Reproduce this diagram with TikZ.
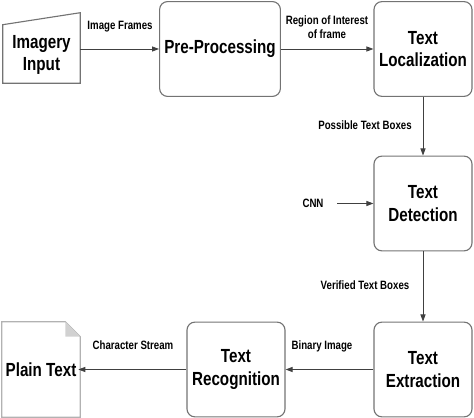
\documentclass[tikz,border=0pt]{standalone}
\usepackage{fontspec}
\setmainfont{Liberation Sans}[FakeStretch=0.8]
\usetikzlibrary{arrows.meta,calc,positioning}
\newcommand\PxScale{0.025cm}
\tikzset{
  box/.style={
    shape = rectangle,
    draw = black!55,
    line width = 0.8pt,
    rounded corners = 0.2cm,
    minimum width = 2.45cm,
    minimum height = 2.37cm,
    align = center,
    font = \fontsize{13.5}{16}\selectfont\bfseries
  },
  plain/.style={
    shape = rectangle,
    inner sep = 0pt,
    align = center,
    font = \fontsize{13.5}{16}\selectfont\bfseries
  },
  lbl/.style={
    align = center,
    inner sep = 1pt,
    font = \fontsize{8.6}{10}\selectfont\bfseries
  },
  arr/.style={
    draw = black!75,
    line width = 0.6pt,
    -{Triangle[length=5pt,width=3.6pt]}
  },
}
\begin{document}
\begin{tikzpicture}[x=\PxScale,y=-\PxScale]
    \useasboundingbox (0,0) rectangle (474,418);

    \node[plain, minimum width=1.925cm, minimum height=1.4cm] (im) at (41.5,55) {Imagery\\Input};
    \draw[black!55, line width=0.8pt] (im.south west) -- (im.south east)
        -- ([yshift=0.35cm]im.north east) -- ([yshift=0.05cm]im.north west) -- cycle;

    \node[box, minimum width=2.95cm] (pre) at (220,49) {Pre-Processing};
    \node[box] (loc) at (423,49) {Text\\Localization};
    \node[box] (det) at (423,203.5) {Text\\Detection};
    \node[box] (ext) at (423,369.5) {Text\\Extraction};
    \node[box] (rec) at (236,369.5) {Text\\Recognition};

    \node[plain, minimum width=1.95cm, minimum height=2.375cm] (pt) at (41,369.5) {Plain Text};
    \draw[black!30, line width=0.8pt] (pt.north west) -- ([xshift=-0.375cm]pt.north east)
        -- ([yshift=-0.375cm]pt.north east) -- (pt.south east) -- (pt.south west) -- cycle;
    \fill[black!18] ([xshift=-0.375cm]pt.north east) -- ([yshift=-0.375cm]pt.north east)
        -- ([xshift=-0.375cm,yshift=-0.375cm]pt.north east) -- cycle;

    \node[lbl] (cnn) at (313,203.5) {CNN};

    \draw[arr] (pre.west -| im.east) -- (pre.west);
    \draw[arr] (pre.east) -- (loc.west);
    \draw[arr] (loc.south) -- (det.north);
    \draw[arr, shorten <=0.3cm] (cnn.east) -- (det.west);
    \draw[arr] (det.south) -- (ext.north);
    \draw[arr] (ext.west) -- (rec.east);
    \draw[arr, shorten >=-0.05cm] (rec.west) -- (pt.east);

    \node[lbl] (l1) at (120,27) {Image Frames};
    \node[lbl] (l2) at (327,27) {Region of Interest\\of frame};
    \node[lbl] (l3) at (365,125) {Possible Text Boxes};
    \node[lbl] (l4) at (365,285) {Verified Text Boxes};
    \node[lbl] (l5) at (322,346) {Binary Image};
    \node[lbl] (l6) at (133,345) {Character Stream};
\end{tikzpicture}
\end{document}
